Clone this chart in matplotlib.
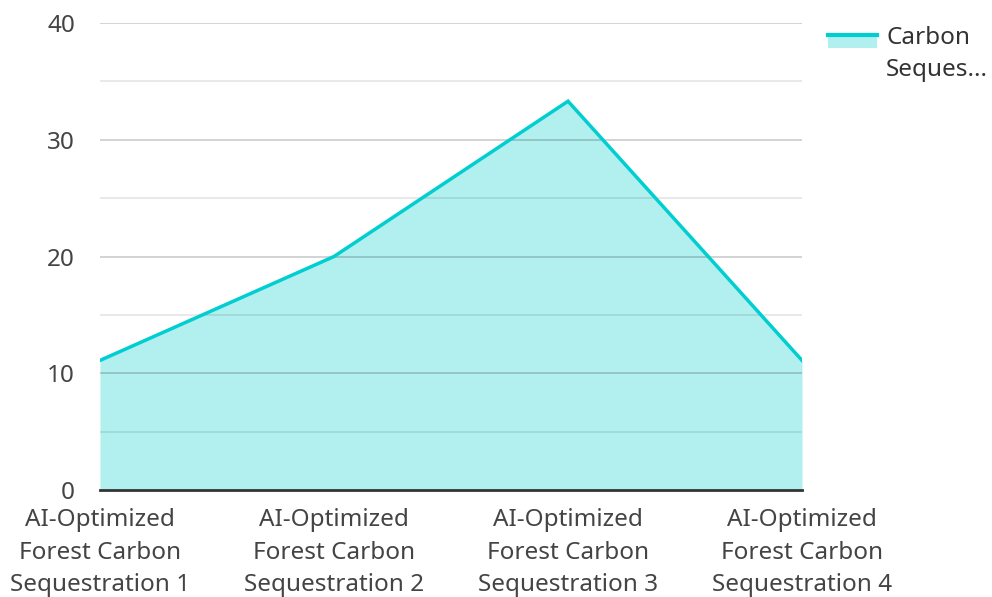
import matplotlib.pyplot as plt
from matplotlib.patches import Rectangle
from matplotlib.lines import Line2D

plt.rcParams['font.family'] = ['Noto Sans', 'DejaVu Sans']

categories = [
    "AI-Optimized\nForest Carbon\nSequestration 1",
    "AI-Optimized\nForest Carbon\nSequestration 2",
    "AI-Optimized\nForest Carbon\nSequestration 3",
    "AI-Optimized\nForest Carbon\nSequestration 4",
]
values = [11.1, 20.0, 33.3, 11.1]
series_name = "Carbon\nSeques..."
yticks = [0, 10, 20, 30, 40]

line_color = "#00CED1"
fill_color = "#B2EFEF"
font_size = 17.5

fig = plt.figure(figsize=(9.92, 5.97), dpi=100)
ax = fig.add_axes([0.1008, 0.1792, 0.7077, 0.7823])

x = list(range(len(values)))
ax.fill_between(x, values, 0, color=fill_color, linewidth=0, zorder=1)
ax.plot(x, values, color=line_color, linewidth=2.5, zorder=3, solid_joinstyle='miter')

# grid lines sit over the fill
for y in yticks[1:]:
    ax.axhline(y, color='black', alpha=0.2, linewidth=1.2, zorder=2)
for y in [5, 15, 25, 35]:
    ax.axhline(y, color='black', alpha=0.1, linewidth=1.2, zorder=2)

ax.set_xlim(0, len(values) - 1)
ax.set_ylim(0, 40)
ax.set_yticks(yticks)
ax.set_xticks(x)
ax.set_xticklabels(categories, linespacing=1.47)
ax.tick_params(axis='both', length=0, labelsize=font_size, colors='#444444')
ax.tick_params(axis='y', pad=18)
ax.tick_params(axis='x', pad=13)

for side in ['top', 'right', 'left']:
    ax.spines[side].set_visible(False)
ax.spines['bottom'].set_color('#333333')
ax.spines['bottom'].set_linewidth(2)
ax.spines['bottom'].set_zorder(4)

# legend
fig.patches.append(Rectangle((828 / 992, 1 - 48 / 597), 49 / 992, 12 / 597,
                             transform=fig.transFigure, color=fill_color, linewidth=0))
fig.lines.append(Line2D([828 / 992, 877 / 992], [1 - 35 / 597, 1 - 35 / 597],
                        transform=fig.transFigure, color=line_color, linewidth=3))
fig.text(886 / 992, 1 - 26 / 597, series_name, fontsize=font_size, color='#333333',
         va='top', ha='left', linespacing=1.42)

fig.savefig('out.png', dpi=100)
